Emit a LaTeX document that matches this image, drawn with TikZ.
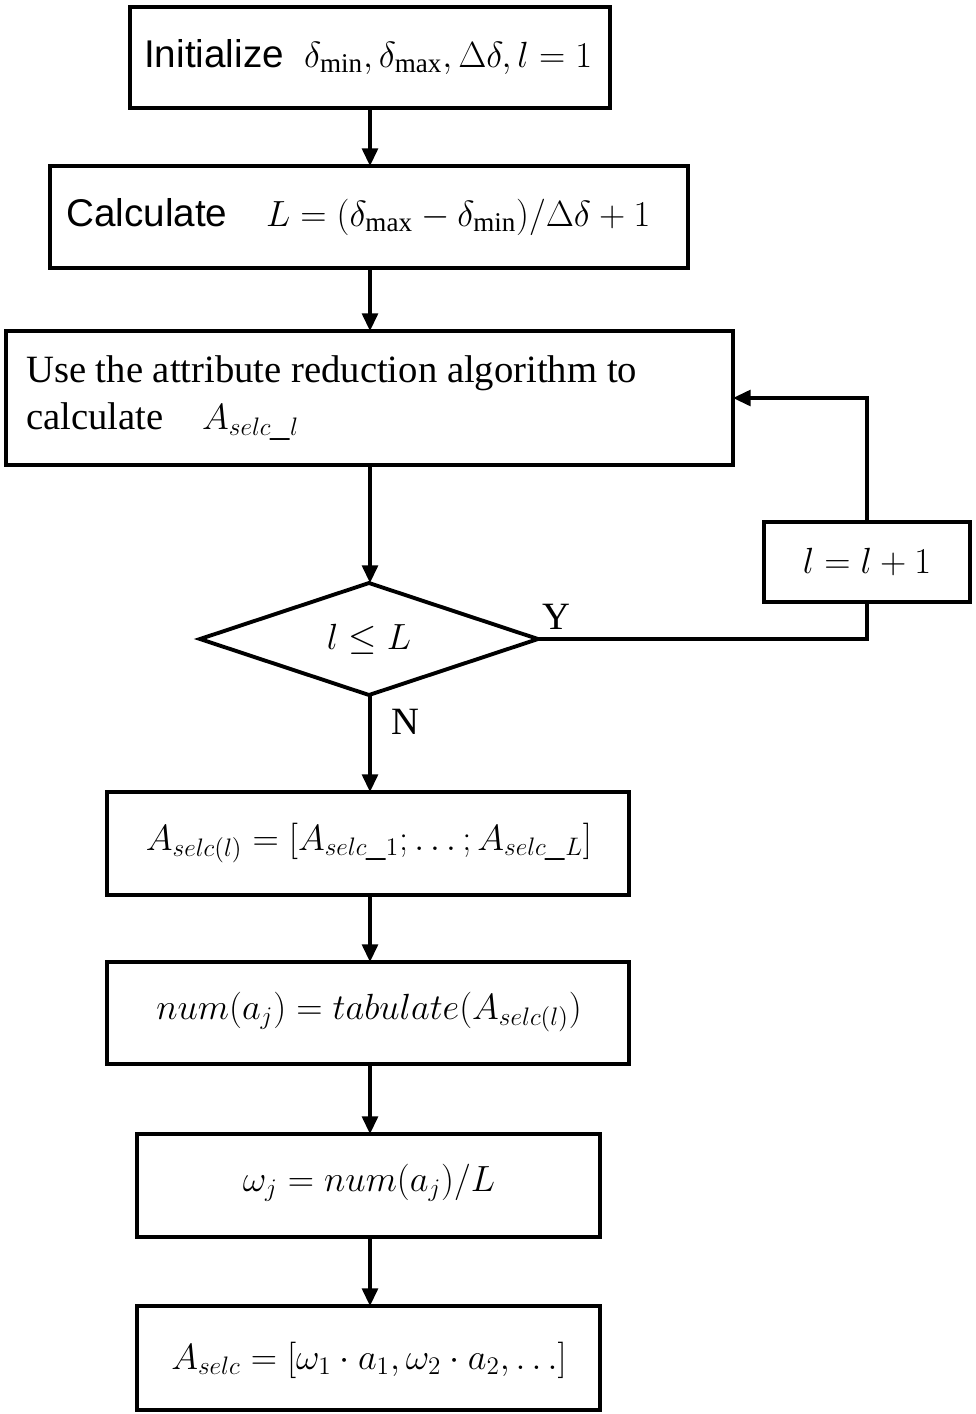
\documentclass[tikz,border=0pt]{standalone}
\usepackage{fontspec}
\setmainfont{Liberation Serif}
\newfontfamily\sansf{Liberation Sans}
\usetikzlibrary{arrows.meta}
\begin{document}
\begin{tikzpicture}[x=0.02cm,y=-0.02cm,
  box/.style={draw,line width=2.2pt},
  con/.style={line width=1.8pt,-{Triangle[length=10pt,width=9pt]}},
  every node/.style={font=\fontsize{22}{27}\selectfont}]
\useasboundingbox (0,0) rectangle (975,1414);
\draw[box] (130,7) rectangle (610,108);
\node[anchor=west] (t1) at (138,57) {{\sansf Initialize}\; $\delta_{\min},\delta_{\max},\Delta\delta,l=1$};
\draw[box] (50,166) rectangle (688,268);
\node[anchor=west] (t2) at (60,217) {{\sansf Calculate}\quad $L=(\delta_{\max}-\delta_{\min})/\Delta\delta+1$};
\draw[box] (6,331) rectangle (733,465);
\node[anchor=west,align=left] (t3) at (20,398) {Use the attribute reduction algorithm to\\calculate\quad $A_{selc\_l}$};
\draw[line width=2.2pt] (200,639) -- (369,583) -- (538,639) -- (369,695) -- cycle;
\node (td) at (369,639) {$l\le L$};
\draw[box] (764,522) rectangle (970,602); \node (tl) at (867,562) {$l=l+1$};
\draw[box] (107,792) rectangle (629,895);
\node (t4) at (369,843) {$A_{selc(l)}=[A_{selc\_1};\ldots;A_{selc\_L}]$};
\draw[box] (107,962) rectangle (629,1064);
\node (t5) at (369,1012) {$num(a_j)=tabulate(A_{selc(l)})$};
\draw[box] (137,1134) rectangle (600,1237);
\node (t6) at (369,1183) {$\omega_j=num(a_j)/L$};
\draw[box] (137,1306) rectangle (600,1410);
\node (t7) at (369,1360) {$A_{selc}=[\omega_1\cdot a_1,\omega_2\cdot a_2,\ldots]$};
\coordinate (p1) at (370,108); \coordinate (q1) at (370,166);
\coordinate (p2) at (370,268); \coordinate (q2) at (370,331);
\coordinate (p3) at (370,465); \coordinate (q3) at (370,583);
\coordinate (p4) at (370,695); \coordinate (q4) at (370,792);
\coordinate (p5) at (370,895); \coordinate (q5) at (370,962);
\coordinate (p6) at (370,1064); \coordinate (q6) at (370,1134);
\coordinate (p7) at (370,1237); \coordinate (q7) at (370,1306);
\foreach \i in {1,...,7} \draw[con] (p\i) -- (q\i);
\coordinate (dr) at (538,639); \coordinate (lb) at (867,602);
\coordinate (lt) at (867,522); \coordinate (r3) at (733,398);
\draw[line width=1.8pt] (dr) -| (lb);
\draw[con] (lt) |- (r3);
\node (ty) at (556,617) {Y};
\node (tn) at (405,722) {N};
\end{tikzpicture}
\end{document}
